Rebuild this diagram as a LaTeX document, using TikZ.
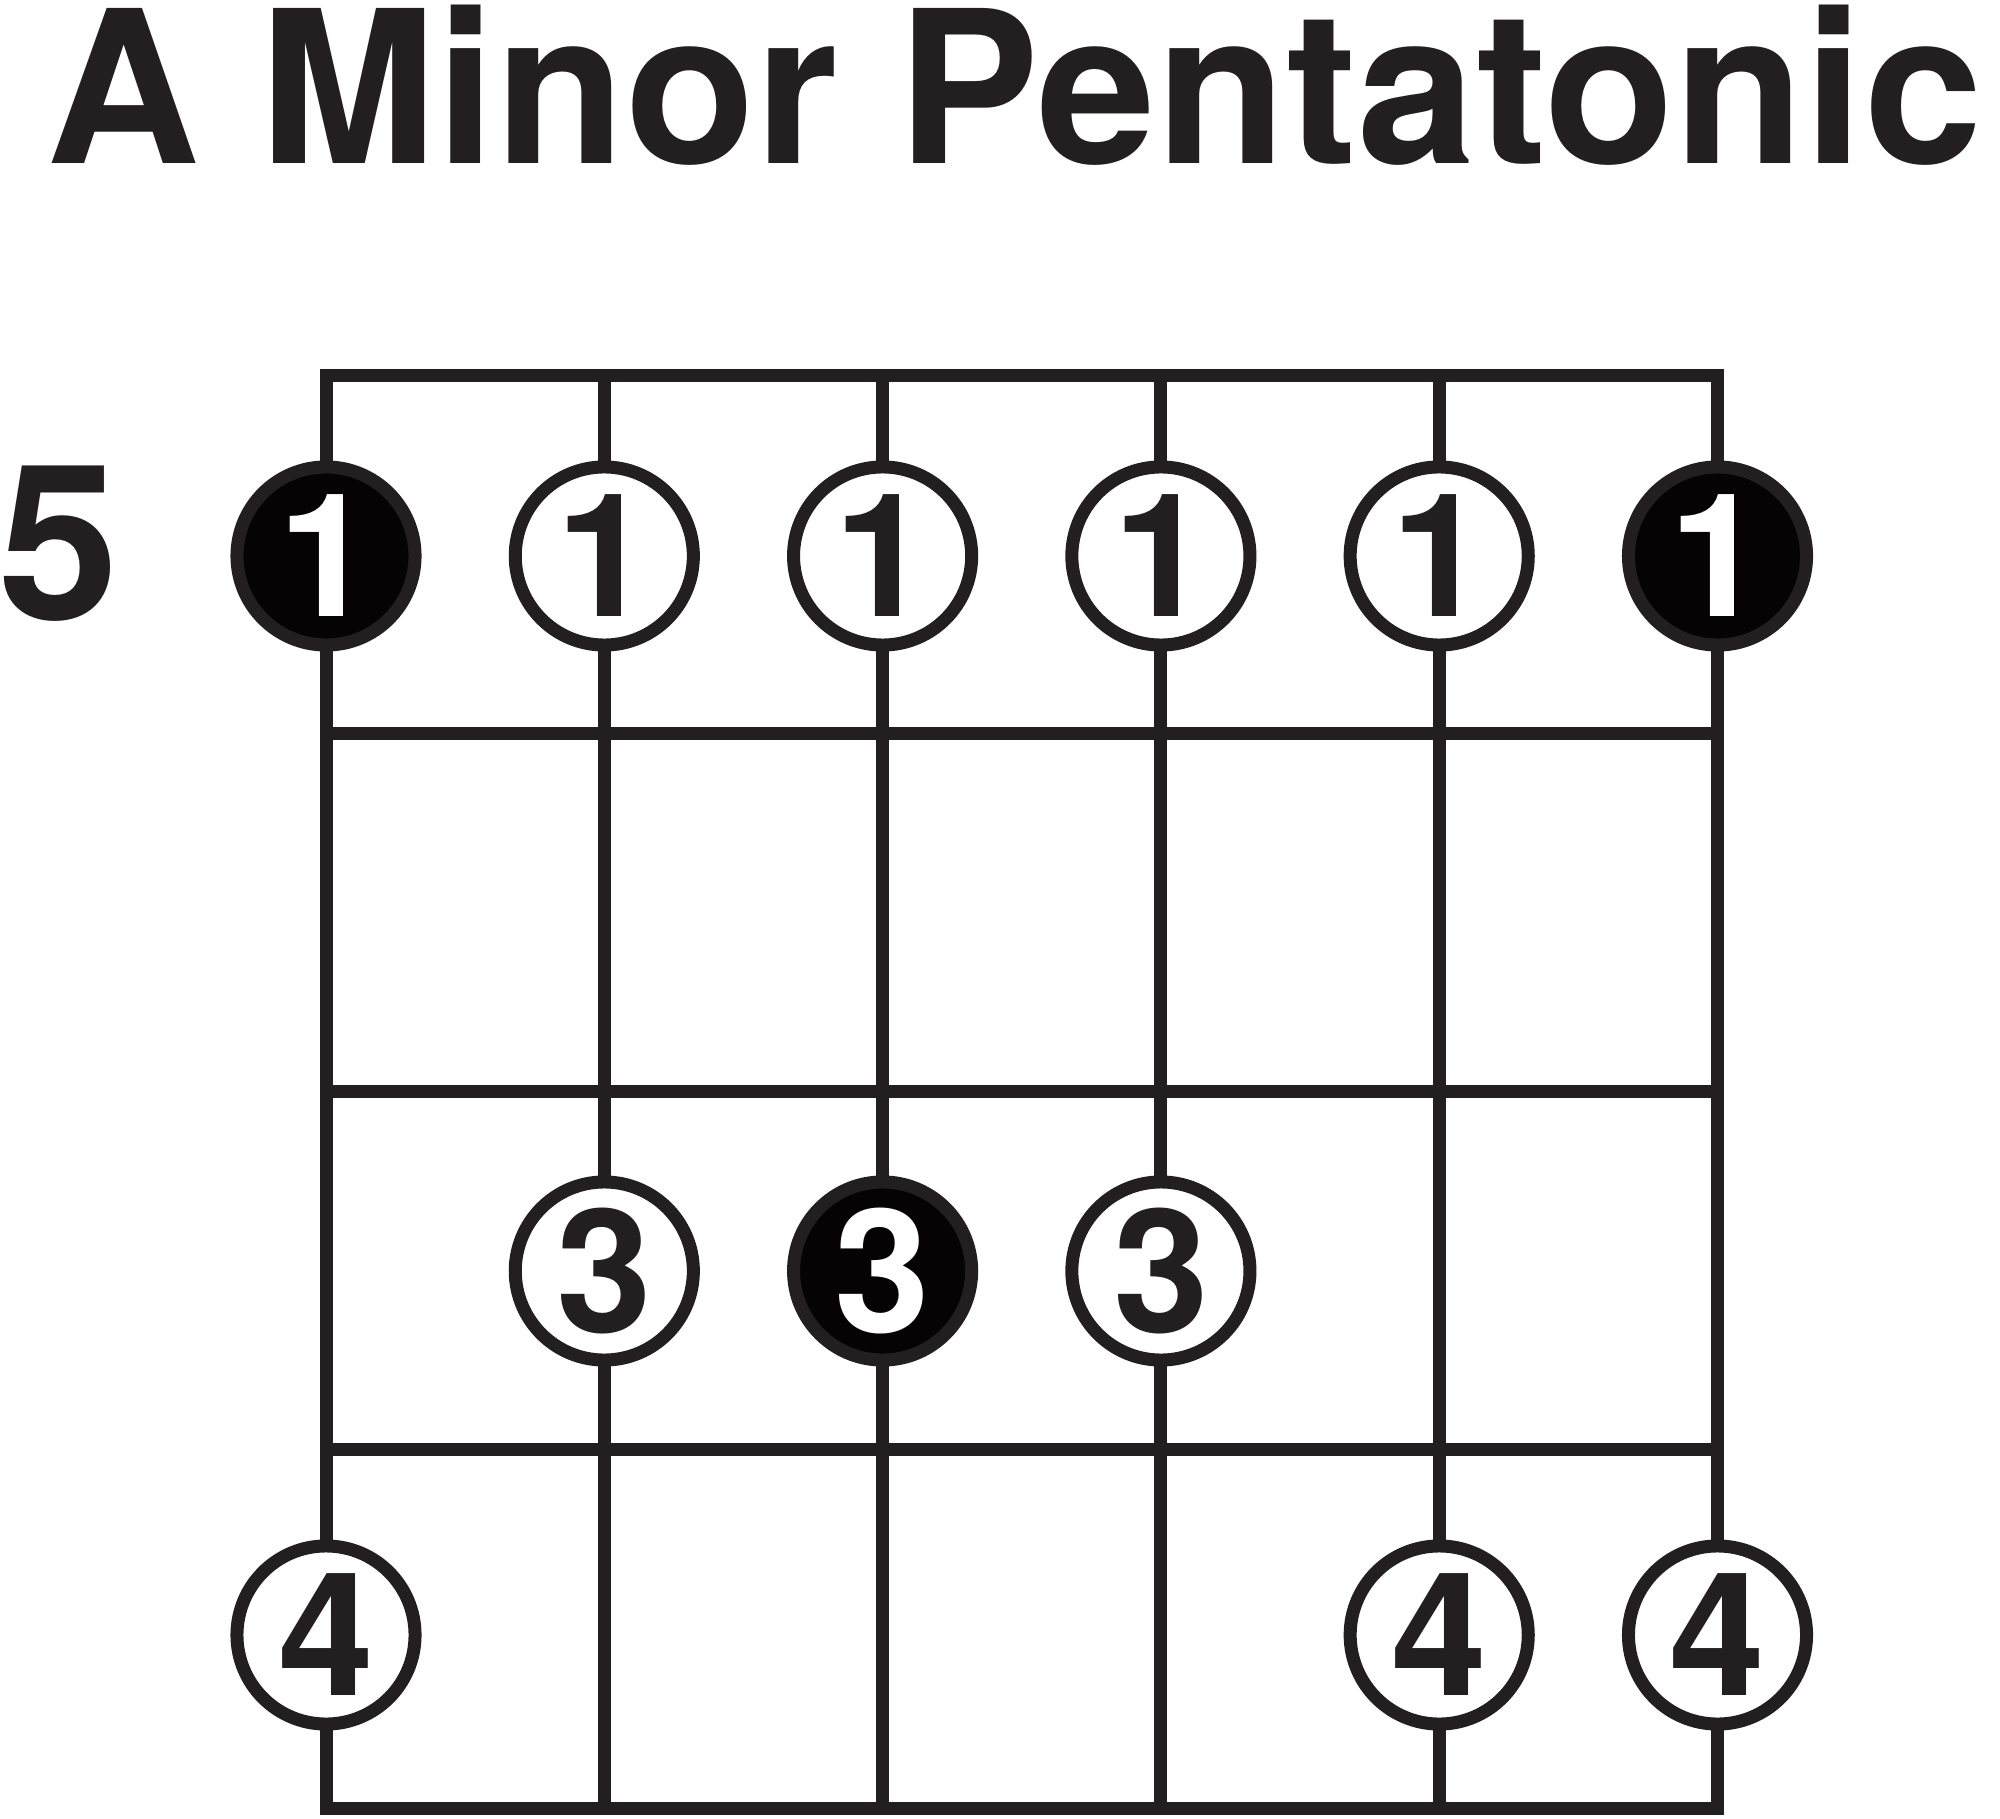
\documentclass[tikz,border=0pt]{standalone}
\usepackage{fontspec}
\setmainfont{TeX Gyre Heros}
\definecolor{ink}{HTML}{231F20}
\definecolor{dotfill}{HTML}{050303}
\begin{document}
\begin{tikzpicture}[x=0.01cm,y=-0.01cm,
  fretline/.style={draw=ink,line width=0.13cm,line join=miter},
  note/.style={circle,draw=ink,line width=0.13cm,fill=white,minimum size=1.78cm,inner sep=0pt,text=ink,
    font=\fontsize{48.9pt}{50pt}\selectfont\bfseries},
  rootnote/.style={note,fill=dotfill,text=white},
  bigtext/.style={inner sep=0pt,text=ink,font=\fontsize{61.6pt}{70pt}\selectfont\bfseries}]
\useasboundingbox (0,0) rectangle (2000,1819);
\fill[white] (0,0) rectangle (2000,1819);
% strings
\foreach \i/\x in {1/326,2/604.3,3/882.6,4/1160.9,5/1439.2,6/1717.5} {
  \coordinate (s\i top) at (\x,375.5);
  \coordinate (s\i bot) at (\x,1808);
}
% frets
\foreach \j/\y in {1/733.6,2/1091.7,3/1449.8} {
  \coordinate (f\j L) at (326,\y);
  \coordinate (f\j R) at (1717.5,\y);
}
\draw[fretline] (s1top) rectangle (s6bot);
\foreach \i in {2,3,4,5} { \draw[fretline] (s\i top) -- (s\i bot); }
\foreach \j in {1,2,3} { \draw[fretline] (f\j L) -- (f\j R); }
% title and fret number
\node[bigtext,anchor=base west,font=\fontsize{60.5pt}{70pt}\selectfont\bfseries] (title) at (46,164) {A Minor Pentatonic};
\node[bigtext,anchor=base] (fretnum) at (59,620) {5};
% notes, row 1
\node[rootnote] (n11) at (326,556) {1};
\node[note] (n12) at (604.3,556) {1};
\node[note] (n13) at (882.6,556) {1};
\node[note] (n14) at (1160.9,556) {1};
\node[note] (n15) at (1439.2,556) {1};
\node[rootnote] (n16) at (1717.5,556) {1};
% row 3
\node[note] (n32) at (604.3,1271) {3};
\node[rootnote] (n33) at (882.6,1271) {3};
\node[note] (n34) at (1160.9,1271) {3};
% row 4
\node[note] (n41) at (326,1635) {4};
\node[note] (n45) at (1439.2,1635) {4};
\node[note] (n46) at (1717.5,1635) {4};
\end{tikzpicture}
\end{document}
